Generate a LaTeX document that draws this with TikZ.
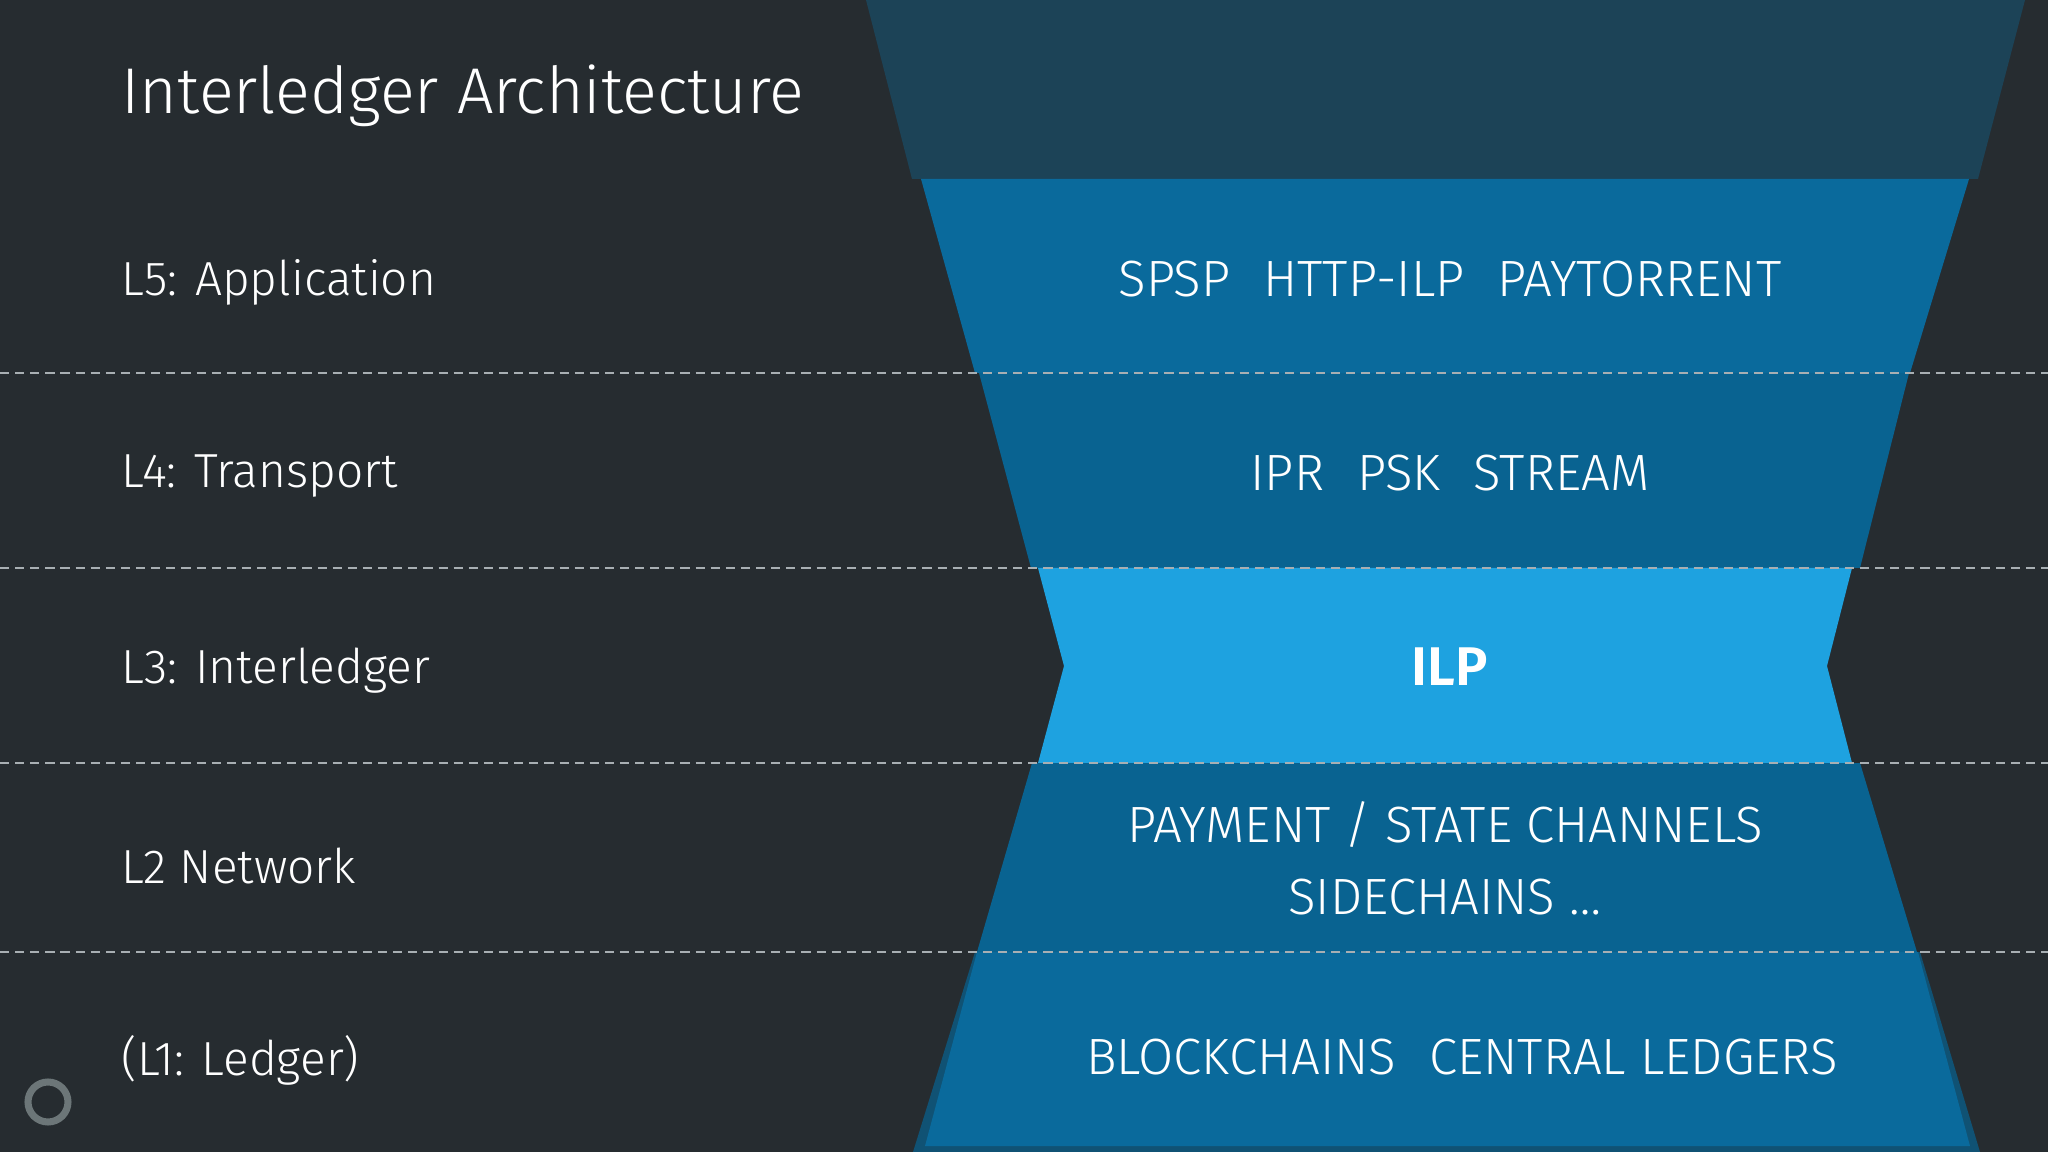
\documentclass[tikz,border=0pt]{standalone}
\usepackage{fontspec}
\setmainfont{Fira Sans}[UprightFont=* Light, BoldFont=* SemiBold]
\definecolor{slidebg}{RGB}{38,44,48}
\definecolor{topband}{RGB}{28,67,87}
\definecolor{layerblue}{RGB}{10,106,156}
\definecolor{layerdark}{RGB}{9,99,145}
\definecolor{rimblue}{RGB}{16,82,116}
\definecolor{ilpblue}{RGB}{30,162,224}
\definecolor{dashgrey}{RGB}{168,175,179}
\definecolor{ringgrey}{RGB}{108,118,120}
\tikzset{
	layerlabel/.style={anchor=west, text=white, inner sep=0pt, font=\fontsize{13.6}{16}\selectfont},
	protolabel/.style={text=white, inner sep=0pt, align=center, font=\fontsize{14.5}{20.5}\selectfont},
}

\begin{document}
\begin{tikzpicture}[x=0.01cm, y=-0.01cm]
		\fill[color=slidebg] (0,0) rectangle (2048,1152);
		\useasboundingbox (0,0) rectangle (2048,1152);

		\fill[color=topband] (866,0) -- (2025,0) -- (1978,179) -- (912,179) -- cycle;
		\fill[color=layerblue] (921,179) -- (1969,179) -- (1910,373) -- (975,373) -- cycle;
		\fill[color=layerdark] (979,373) -- (1909,373) -- (1860,568) -- (1031,568) -- cycle;
		\fill[color=ilpblue] (1038,568) -- (1852,568) -- (1827,666) -- (1852,763) -- (1038,763) -- (1064,666) -- cycle;
		\fill[color=layerdark] (1032,763) -- (1860,763) -- (1917,952) -- (977,952) -- cycle;
		\fill[color=rimblue] (975,952) -- (1920,952) -- (1980,1152) -- (913,1152) -- cycle;
		\fill[color=layerblue] (977,952) -- (1918,952) -- (1970,1146) -- (925,1146) -- cycle;

		\foreach \y in {373,568,763,952} {
			\draw[color=dashgrey, line width=0.6pt, dash pattern=on 2.6pt off 1.7pt] (0,\y) -- (2048,\y);
		}

		\draw[color=ringgrey, line width=2pt] (48,1102) circle (20);

		\node[layerlabel, font=\fontsize{18.4}{22}\selectfont] (title) at (121,96) {Interledger Architecture};
		\node[layerlabel] (app) at (121,282) {L5: Application};
		\node[layerlabel] (transport) at (121,476) {L4: Transport};
		\node[layerlabel] (interledger) at (121,671) {L3: Interledger};
		\node[layerlabel] (network) at (121,866) {L2 Network};
		\node[layerlabel] (ledger) at (121,1060) {(L1: Ledger)};

		\node[protolabel] (apps) at (1450,279) {SPSP\hspace{0.65em}HTTP-ILP\hspace{0.65em}PAYTORRENT};
		\node[protolabel] (transports) at (1450,473) {IPR\hspace{0.65em}PSK\hspace{0.65em}STREAM};
		\node[protolabel, font=\fontsize{15.5}{20}\selectfont\bfseries] (ilp) at (1450,667) {ILP};
		\node[protolabel] (channels) at (1445,858) {PAYMENT / STATE CHANNELS\\SIDECHAINS \dots};
		\node[protolabel] (ledgers) at (1462,1057) {BLOCKCHAINS\hspace{0.65em}CENTRAL LEDGERS};
	\end{tikzpicture}
\end{document}
